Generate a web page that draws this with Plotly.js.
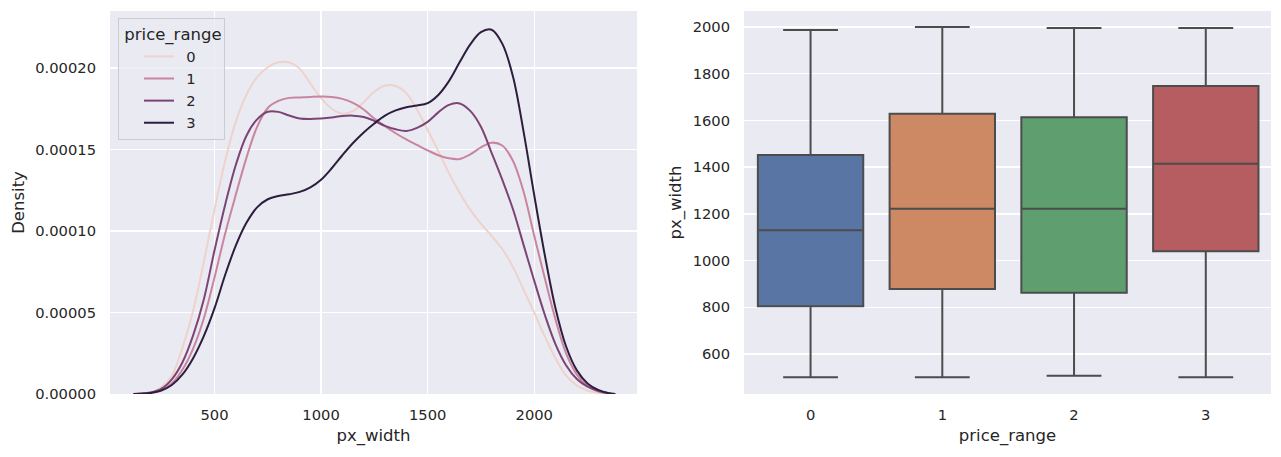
<!DOCTYPE html>
<html><head><meta charset="utf-8">
<script src="https://cdn.plot.ly/plotly-3.0.1.min.js"></script>
<style>html,body{margin:0;padding:0;background:#fff}#c{width:1281px;height:457px}</style>
</head><body><div id="c"></div>
<script>
const pxWidth=[120,150,200,250,300,350,400,450,500,550,600,650,700,750,800,850,900,950,1000,1050,1100,1150,1200,1250,1300,1350,1400,1450,1500,1550,1600,1650,1700,1750,1800,1850,1900,1950,2000,2050,2100,2150,2200,2250,2300,2350,2380];
// densities in units of 1e-6
const density0=[0,0.1,0.9,4.0,11.3,28.5,51.2,81,113,143,167,183.5,194.5,200.5,203.5,203.5,199.5,190.5,181.5,175,172,173.5,179,185.5,189.3,189,184.5,174.5,162,149,135.5,123.5,113,104.5,97,89,78,64,49.9,35.2,21.8,11.3,5.2,2.1,0.6,0.1,0];
const density1=[0,0.1,0.6,2.1,6.4,15.0,27.9,46.3,71.4,98.3,122.2,144.9,163.9,175.5,179.8,181.7,182.0,182.3,182.5,182.3,181.1,178.6,174.6,169,164.3,160,156.2,152.8,149.5,146.5,144.6,144.2,147,151.3,154.2,152.5,143.1,124.1,97.1,70.8,45.6,24.8,11.9,4.9,1.5,0.3,0];
const density2=[0,0.2,0.9,3.1,9,19.5,36,58,88,116,140.5,158.5,168.5,173.2,173.1,170.9,169.1,168.8,169.1,169.7,170.6,170.8,170.0,167.6,164.5,162.4,161.4,163.3,167,172.8,177.4,178.3,173.7,164,148,131.5,113.5,91.5,69.5,48.5,30.5,17.5,9.2,4.5,2,0.5,0];
const density3=[0,0.1,0.6,2.1,5.5,12,22,35.5,52.5,73,91,105,114.5,119.5,121.5,122.5,124,126.8,131.5,138.5,146.5,154,160.5,166,170.8,174,176,177,178.5,183.5,192,203.5,214.5,222,223.5,215,195,161,122,85,52.5,29,14.5,6.5,2.5,0.5,0];
const priceRanges=['0','1','2','3'];
const kdeColors=['#eed2cb','#c9859f','#7c4475','#2d1e3e'];
const boxColors=['#5975a4','#cc8963','#5f9e6e','#b55d60'];
const q1=[805,878,862,1040];
const medians=[1130,1222,1222,1414];
const q3=[1452,1628,1613,1747];
const lowerFence=[501,501,507,501];
const upperFence=[1987,2000,1995,1995];

const kdeSeries=[density0,density1,density2,density3];
const traces=[];
kdeSeries.forEach((d,i)=>{
  traces.push({type:'scatter',mode:'lines',x:pxWidth,y:d.map(v=>v*1e-6),name:'\u2002'+priceRanges[i],
    line:{color:kdeColors[i],width:2,shape:'spline',smoothing:1},xaxis:'x',yaxis:'y'});
});
priceRanges.forEach((c,i)=>{
  traces.push({type:'box',x:[c],q1:[q1[i]],median:[medians[i]],q3:[q3[i]],lowerfence:[lowerFence[i]],upperfence:[upperFence[i]],
    width:0.8,whiskerwidth:0.52,fillcolor:boxColors[i],line:{color:'#4c4c4c',width:2},showlegend:false,xaxis:'x2',yaxis:'y2'});
});
const tickFont={family:'DejaVu Sans',size:14.7,color:'#262626'};
const titleFont={family:'DejaVu Sans',size:16.5,color:'#262626'};
const base={showline:false,zeroline:false,ticks:'',gridcolor:'#ffffff',gridwidth:1.4,tickfont:tickFont};
const layout={
  width:1281,height:457,paper_bgcolor:'#ffffff',plot_bgcolor:'#eaeaf2',showlegend:true,boxmode:'overlay',
  margin:{l:110,r:10,t:11,b:63,pad:0},
  xaxis:{...base,domain:[0,0.4539],range:[10,2482],tickvals:[500,1000,1500,2000],ticklabelstandoff:10,title:{text:'px_width',font:titleFont,standoff:7}},
  yaxis:{...base,range:[0,0.000235],tickvals:[0,0.00005,0.0001,0.00015,0.0002],tickformat:'.5f',ticklabelstandoff:13,title:{text:'Density',font:titleFont,standoff:6}},
  xaxis2:{...base,domain:[0.5461,1],type:'category',range:[-0.505,3.495],showgrid:false,ticklabelstandoff:10,title:{text:'price_range',font:titleFont,standoff:7}},
  yaxis2:{...base,range:[429,2068],tickvals:[600,800,1000,1200,1400,1600,1800,2000],ticklabelstandoff:13,title:{text:'px_width',font:titleFont,standoff:6},anchor:'x2'},
  legend:{x:0.0069,y:0.982,xanchor:'left',yanchor:'top',bgcolor:'rgba(234,234,242,0.8)',bordercolor:'#cccccc',borderwidth:1,indentation:20,
    title:{text:'\u2009price_range',font:{family:'DejaVu Sans',size:16.5,color:'#262626'}},font:tickFont,traceorder:'normal',itemwidth:30,entrywidth:49}
};
Plotly.newPlot('c',traces,layout,{displayModeBar:false,staticPlot:true});
</script></body></html>
